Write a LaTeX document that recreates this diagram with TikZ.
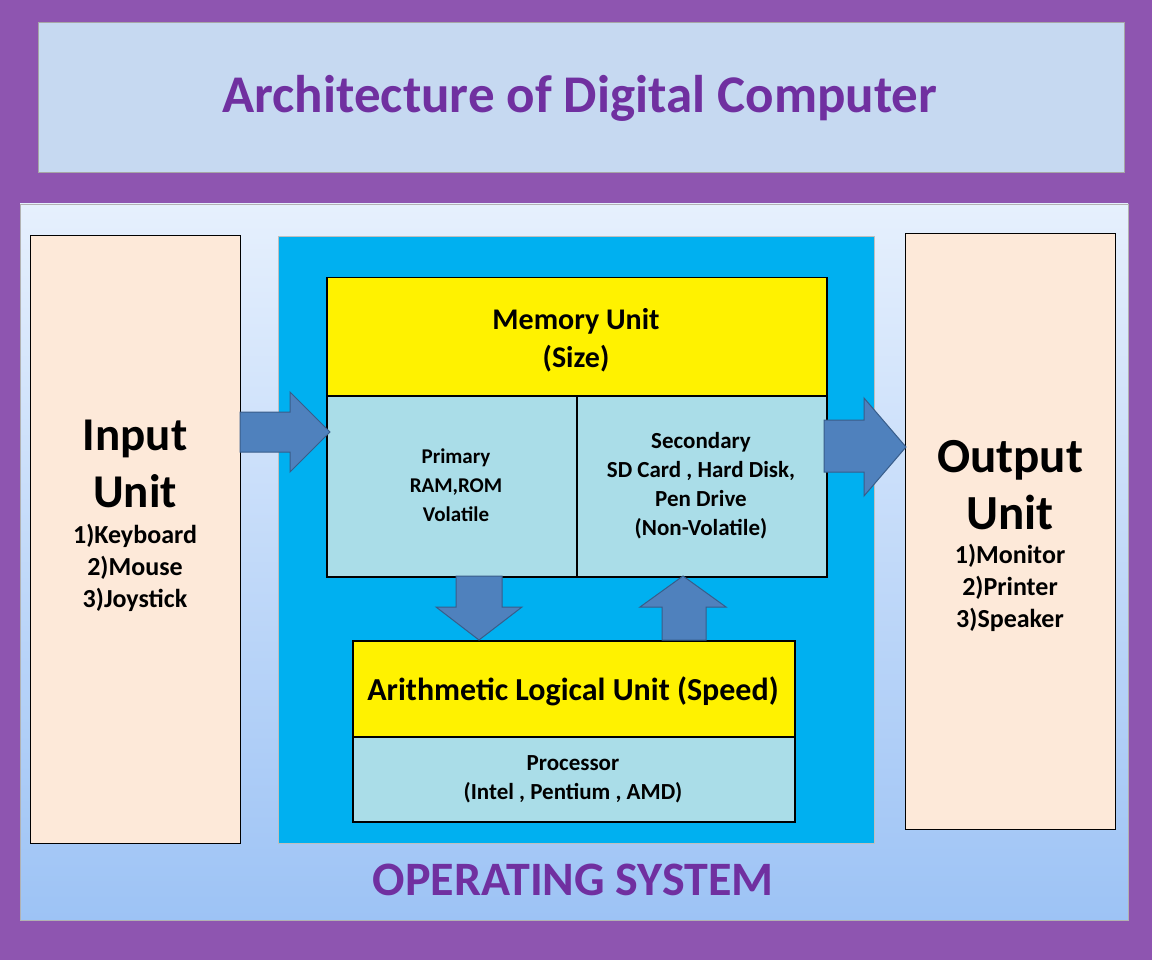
\documentclass[tikz,border=0pt]{standalone}
\usepackage{fontspec}
\setmainfont{Carlito}
\begin{document}
\begin{tikzpicture}[x=1pt,y=-1pt,
 txt/.style={font=\bfseries,align=center,inner sep=0pt},
 drop/.style={fill=drop,draw=black,line width=1.5pt},
 yel/.style={fill=yellow,draw=black,line width=1.5pt},
 barrow/.style={fill=arr,draw=arrd,line width=1pt}]
\definecolor{purp}{HTML}{8E55B0}
\definecolor{ttl}{HTML}{C6D9F1}
\definecolor{ptxt}{HTML}{7030A0}
\definecolor{peach}{HTML}{FDE9D9}
\definecolor{cyanb}{HTML}{00B0F0}
\definecolor{drop}{HTML}{AADDE8}
\definecolor{arr}{HTML}{4F81BD}
\definecolor{arrd}{HTML}{385D8A}
\definecolor{ptop}{HTML}{E6F0FD}
\definecolor{pbot}{HTML}{9DC3F5}
\useasboundingbox (0,0) rectangle (1152,960);
\fill[purp] (0,0) rectangle (1152,960);
\node[draw=gray!70,fill=ttl,minimum width=1086pt,minimum height=150pt,anchor=north west] (title) at (38,22) {};
\node[txt,text=ptxt,font=\bfseries\fontsize{53}{56}\selectfont] (tt) at (580,98) {Architecture of Digital Computer};
\shade[top color=ptop,bottom color=pbot,draw=gray!60] (20,204) rectangle (1128,920);
\node[draw=black,line width=1.2pt,fill=peach,minimum width=210pt,minimum height=608pt,anchor=north west] (in) at (30,235) {};
\node[txt,font=\bfseries\fontsize{47}{57}\selectfont] (inl) at (135,464) {Input\\Unit};
\node[txt,font=\bfseries\fontsize{26}{32}\selectfont] (inll) at (135,568) {1)Keyboard\\2)Mouse\\3)Joystick};
\node[draw=black,line width=1.2pt,fill=peach,minimum width=210pt,minimum height=596pt,anchor=north west] (out) at (905,233) {};
\node[txt,font=\bfseries\fontsize{49}{57}\selectfont] (outl) at (1010,485) {Output\\Unit};
\node[txt,font=\bfseries\fontsize{26}{32}\selectfont] (outll) at (1010,588) {1)Monitor\\2)Printer\\3)Speaker};
\node[fill=cyanb,draw=gray!50,minimum width=596pt,minimum height=607pt,anchor=north west] (cpu) at (278,236) {};
\node[yel,minimum width=500pt,minimum height=118pt,anchor=north west] (mem) at (326,277) {};
\node[txt,font=\bfseries\fontsize{30}{38}\selectfont] (meml) at (576,340) {Memory Unit\\(Size)};
\node[drop,minimum width=250pt,minimum height=181pt,anchor=north west] (pri) at (326,395) {};
\node[txt,font=\bfseries\fontsize{21}{29}\selectfont] (pril) at (456,485) {Primary\\RAM,ROM\\Volatile};
\node[drop,minimum width=250pt,minimum height=181pt,anchor=north west] (sec) at (576,395) {};
\node[txt,font=\bfseries\fontsize{23}{29}\selectfont] (secl) at (701,486) {Secondary\\SD Card , Hard Disk,\\Pen Drive\\(Non-Volatile)};
\node[yel,minimum width=442pt,minimum height=96pt,anchor=north west] (alu) at (352,640) {};
\node[txt,font=\bfseries\fontsize{32}{34}\selectfont] (alul) at (573,691) {Arithmetic Logical Unit (Speed)};
\node[drop,minimum width=442pt,minimum height=85pt,anchor=north west] (proc) at (352,736) {};
\node[txt,font=\bfseries\fontsize{23}{29}\selectfont] (procl) at (573,779) {Processor\\(Intel , Pentium , AMD)};
\node[txt,text=ptxt,font=\bfseries\fontsize{48}{50}\selectfont] (os) at (573,880) {OPERATING SYSTEM};
% arrows
\draw[barrow] (240,412) -- (290,412) -- (290,392) -- (330,432) -- (290,472) -- (290,452) -- (240,452) -- cycle;
\draw[barrow] (824,420) -- (864,420) -- (864,398) -- (906,447) -- (864,496) -- (864,472) -- (824,472) -- cycle;
\draw[barrow] (456,576) -- (502,576) -- (502,607) -- (522,607) -- (479,640) -- (436,607) -- (456,607) -- cycle;
\draw[barrow] (662,640) -- (706,640) -- (706,607) -- (726,607) -- (683,576) -- (640,607) -- (662,607) -- cycle;
\end{tikzpicture}
\end{document}
